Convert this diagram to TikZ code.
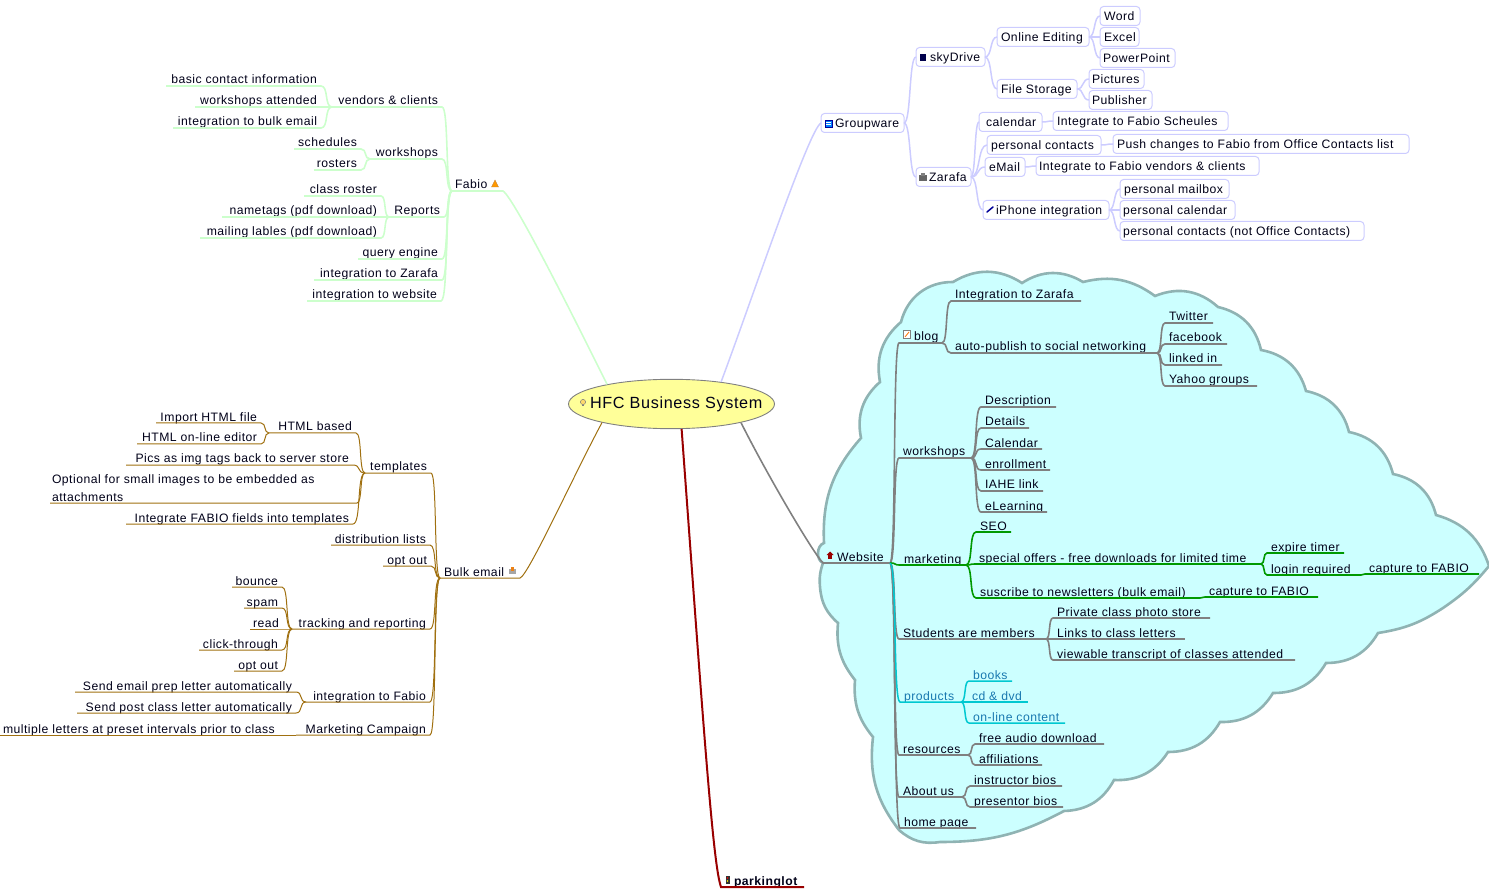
\documentclass[tikz,border=0pt]{standalone}
\usepackage{fontspec}
\setmainfont{Liberation Sans}[LetterSpace=4]
\usetikzlibrary{shapes.geometric,calc}
\definecolor{lav}{HTML}{CCCCFF}
\definecolor{lgreen}{HTML}{CCFFCC}
\definecolor{brn}{HTML}{A07010}
\definecolor{gry}{HTML}{808080}
\definecolor{mgreen}{HTML}{009900}
\definecolor{cyn}{HTML}{00C8D0}
\definecolor{dred}{HTML}{990000}
\definecolor{cloudline}{HTML}{8FB3B3}
\definecolor{cloudfill}{HTML}{CCFFFF}
\definecolor{rootfill}{HTML}{FFFF99}
\definecolor{txt}{HTML}{000018}
\definecolor{blu}{HTML}{1878B0}
\tikzset{
 base/.style={inner xsep=0pt,inner ysep=2pt,outer sep=0pt,text height=9pt,text depth=0pt,text=txt,
   font=\fontsize{12.2}{18}\selectfont},
 ul/.style={base,anchor=south west},
 bx/.style={base,inner ysep=0pt,draw=lav,line width=1pt,rounded corners=3.5pt,fill=white,minimum height=19pt},
 lk/.style={draw=gry,line width=1.6pt},
 rootnode/.style={ellipse,draw=gry,line width=0.9pt,fill=rootfill,minimum width=206pt,minimum height=49.4pt,inner sep=0pt,
   font=\fontsize{16.2}{18}\selectfont,text=txt}
}
% left-aligned underlined node
\newcommand\Ul[6][]{\node[ul,#1] (#2) at (#3,#5) {\makebox[\dimexpr#4pt-#3pt\relax][l]{\hspace{4pt}#6}};}
% right-aligned underlined node
\newcommand\Ur[6][]{\node[ul,#1] (#2) at (#3,#5) {\makebox[\dimexpr#4pt-#3pt\relax][r]{#6\hspace{4pt}}};}
% left-aligned with a given left pad
\newcommand\Up[6]{\node[ul] (#1) at (#2,#4) {\makebox[\dimexpr#3pt-#2pt\relax][l]{\hspace{#5pt}#6}};}
% boxed node
\newcommand\Bx[6]{\node[bx,anchor=west] (#1) at (#2,#4) {\makebox[\dimexpr#3pt-#2pt\relax][l]{\hspace{#5pt}#6}};}
% links
\newcommand\Rt[2]{\draw[lk] let \p1=(#1.south east),\p2=(#2.south west),\n1={0.7*(\x2-\x1)} in
  (#1.south east) .. controls +(\n1,0) and +(-\n1,0) .. (#2.south west) -- (#2.south east);}
\newcommand\Lt[2]{\draw[lk] let \p1=(#1.south west),\p2=(#2.south east),\n1={0.7*(\x2-\x1)} in
  (#1.south west) .. controls +(\n1,0) and +(-\n1,0) .. (#2.south east) -- (#2.south west);}
\newcommand\Bt[2]{\draw[lk] let \p1=(#1.east),\p2=(#2.west),\n1={0.6*(\x2-\x1)} in
  (#1.east) .. controls +(\n1,0) and +(-\n1,0) .. (#2.west);}
\begin{document}
\begin{tikzpicture}[x=1pt,y=-1pt]
\useasboundingbox (0,0) rectangle (1489,890);
% cloud
\draw[cloudline,fill=cloudfill,line width=2.6pt]
 (824,543) to[bend left=22] (861,438) to[bend left=30] (880,382) to[bend left=30] (901,322)
 to[bend left=38] (953,282) to[bend left=32] (1022,283) to[bend left=32] (1083,282)
 to[bend left=25] (1155,296) to[bend left=32] (1218,307) to[bend left=32] (1261,350)
 to[bend left=32] (1306,391) to[bend left=32] (1349,432) to[bend left=32] (1393,474)
 to[bend left=32] (1436,515) to[bend left=28] (1489,566) to[bend left=8] (1443,608)
 to[bend left=12] (1378,633) to[bend left=30] (1326,663) to[bend left=30] (1273,693)
 to[bend left=30] (1220,722) to[bend left=30] (1168,752) to[bend left=30] (1114,780)
 to[bend left=30] (1064,811) to[bend left=14] (940,842) to[bend left=25] (899,830)
 to[bend left=22] (873,737) to[bend left=22] (855,680) to[bend left=22] (838,623)
 to[bend left=22] (820,587) to[bend left=12] (823,563) to[bend left=70] (824,543) -- cycle;
% root
\node[rootnode] (root) at (671.5,404) {\makebox[0pt][l]{\hspace{-81.5pt}\raisebox{-1pt}{HFC Business System}}};

% ---------- Fabio
\Up{fabio}{452}{503}{191}{3}{Fabio}
\Ur{fvend}{332}{442}{107}{vendors \& clients}
\Ur{fbasic}{166}{321}{86}{basic contact information}
\Ur{fatt}{195}{321}{107}{workshops attended}
\Ur{fbulk}{173}{321}{128}{integration to bulk email}
\Ur{fwork}{370}{442}{159}{workshops}
\Ur{fsched}{294}{361}{149}{schedules}
\Ur{frost}{314}{361}{170}{rosters}
\Ur{frep}{389}{444}{217}{Reports}
\Ur{fclass}{304}{381}{196}{class roster}
\Ur{fname}{222}{381}{217}{nametags (pdf download)}
\Ur{fmail}{200}{381}{238}{mailing lables (pdf download)}
\Ur{fquery}{358}{442}{259}{query engine}
\Ur{fzar}{314}{442}{280}{integration to Zarafa}
\Ur{fweb}{307}{441}{301}{integration to website}
\begin{scope}[lk/.style={draw=lgreen,line width=1.6pt}]
\draw[lk] (root.163) .. controls +(-28,-56) and +(12,8) .. (fabio.south east) -- (fabio.south west);
\foreach \c in {fvend,fwork,frep,fquery,fzar,fweb}{\Lt{fabio}{\c}}
\foreach \c in {fbasic,fatt,fbulk}{\Lt{fvend}{\c}}
\foreach \c in {fsched,frost}{\Lt{fwork}{\c}}
\foreach \c in {fclass,fname,fmail}{\Lt{frep}{\c}}
\end{scope}

% ---------- Bulk email
\Up{bulk}{440}{520}{578}{4}{Bulk email}
\Ur{btemp}{365}{431}{473}{templates}
\Ur{bhtml}{269}{356}{433}{HTML based}
\Ur{bimp}{156}{261}{423}{Import HTML file}
\Ur{bedit}{137}{261}{444}{HTML on-line editor}
\Ur{bpics}{126}{353}{465}{Pics as img tags back to server store}
\node[ul,align=left,text height=9pt,inner ysep=2pt] (bopt) at (50,503) {\makebox[307pt][l]{\hspace{2pt}Optional for small images to be embedded as}\\\makebox[307pt][l]{\hspace{2pt}attachments}};
\Ur{bint}{126}{353}{524}{Integrate FABIO fields into templates}
\Ur{bdist}{331}{430}{545}{distribution lists}
\Ur{bopto}{383}{431}{566}{opt out}
\Ur{btrack}{292}{430}{629}{tracking and reporting}
\Ur{bbou}{232}{282}{587}{bounce}
\Ur{bspam}{244}{282}{608}{spam}
\Ur{bread}{250}{283}{629}{read}
\Ur{bclick}{199}{282}{650}{click-through}
\Ur{boptt}{234}{282}{671}{opt out}
\Ur{bfab}{306}{430}{702}{integration to Fabio}
\Ur{bprep}{75}{296}{692}{Send email prep letter automatically}
\Ur{bpost}{77}{296}{713}{Send post class letter automatically}
\Ur{bmkt}{296}{430}{735}{Marketing Campaign}
\node[ul] (bmult) at (0,735) {\makebox[296pt][l]{\hspace{3pt}multiple letters at preset intervals prior to class}};
\begin{scope}[lk/.style={draw=brn,line width=1pt}]
\draw[lk] (root.195) .. controls +(-28,52) and +(8,-2) .. (bulk.south east) -- (bulk.south west);
\foreach \c in {btemp,bdist,bopto,btrack,bfab,bmkt}{\Lt{bulk}{\c}}
\foreach \c in {bhtml,bpics,bopt,bint}{\Lt{btemp}{\c}}
\foreach \c in {bimp,bedit}{\Lt{bhtml}{\c}}
\foreach \c in {bbou,bspam,bread,bclick,boptt}{\Lt{btrack}{\c}}
\foreach \c in {bprep,bpost}{\Lt{bfab}{\c}}
\Lt{bmkt}{bmult}
\end{scope}

% ---------- Groupware
\Bx{grp}{821}{904}{123}{14}{Groupware}
\Bx{sky}{916}{985}{57}{14}{skyDrive}
\Bx{onl}{997}{1089}{37}{4}{Online Editing}
\Bx{wrd}{1100}{1140}{16}{4}{Word}
\Bx{xls}{1100}{1139}{37}{4}{Excel}
\Bx{ppt}{1100}{1175}{58}{3}{PowerPoint}
\Bx{fst}{997}{1077}{89}{4}{File Storage}
\Bx{pic}{1089}{1144}{79}{3}{Pictures}
\Bx{pub}{1089}{1152}{100}{3}{Publisher}
\Bx{zar}{916}{971}{177}{13}{Zarafa}
\Bx{cal}{979}{1042}{122}{7}{calendar}
\Bx{intc}{1053}{1228}{121}{4}{Integrate to Fabio Scheules}
\Bx{pcn}{987}{1101}{145}{4}{personal contacts}
\Bx{psh}{1113}{1409}{144}{4}{Push changes to Fabio from Office Contacts list}
\Bx{eml}{985}{1025}{167}{4}{eMail}
\Bx{inte}{1036}{1259}{166}{3}{Integrate to Fabio vendors \& clients}
\Bx{iph}{983}{1109}{210}{13}{iPhone integration}
\Bx{pmb}{1120}{1229}{189}{4}{personal mailbox}
\Bx{pcl}{1120}{1235}{210}{3}{personal calendar}
\Bx{pct}{1120}{1364}{231}{3}{personal contacts (not Office Contacts)}
\begin{scope}[lk/.style={draw=lav,line width=1.5pt}]
\draw[lk] (root.24.6) .. controls +(30,-80) and +(-12,6) .. (grp.west);
\foreach \a/\c in {grp/sky,grp/zar,sky/onl,sky/fst,onl/wrd,onl/xls,onl/ppt,fst/pic,fst/pub,
  zar/cal,zar/pcn,zar/eml,zar/iph,cal/intc,pcn/psh,eml/inte,iph/pmb,iph/pcl,iph/pct}{\Bt{\a}{\c}}
\end{scope}

% ---------- Website
\Up{web}{823}{890}{563}{14}{Website}
\Up{blog}{899}{942}{343}{15}{blog}
\Ul{bzar}{951}{1081}{301}{Integration to Zarafa}
\Ul{bauto}{951}{1157}{353}{auto-publish to social networking}
\Ul{twi}{1165}{1213}{323}{Twitter}
\Ul{fac}{1165}{1227}{344}{facebook}
\Ul{lin}{1165}{1222}{365}{linked in}
\Ul{yah}{1165}{1257}{386}{Yahoo groups}
\Ul{wsh}{899}{971}{458}{workshops}
\Ul{wde}{981}{1056}{407}{Description}
\Ul{wdt}{981}{1029}{428}{Details}
\Ul{wca}{981}{1042}{449}{Calendar}
\Ul{wen}{981}{1050}{470}{enrollment}
\Ul{wia}{981}{1043}{491}{IAHE link}
\Ul{wel}{981}{1047}{512}{eLearning}
\Ul[]{mkt}{900}{966}{565}{marketing}
\Ul{seo}{976}{1011}{532}{SEO}
\Ul{spc}{975}{1261}{564}{special offers - free downloads for limited time}
\Ul{exp}{1267}{1344}{553}{expire timer}
\Ul{log}{1267}{1361}{575}{login required}
\Ul{capa}{1365}{1479}{574}{capture to FABIO}
\Ul{sus}{976}{1200}{598}{suscribe to newsletters (bulk email)}
\Ul{capb}{1205}{1318}{597}{capture to FABIO}
\Ul{stu}{899}{1046}{639}{Students are members}
\Ul{prv}{1053}{1210}{618}{Private class photo store}
\Ul{lnk}{1053}{1185}{639}{Links to class letters}
\Ul{via}{1053}{1295}{660}{viewable transcript of classes attended}
\Ul[text=blu]{prd}{900}{961}{702}{products}
\Ul[text=blu]{boo}{969}{1012}{681}{books}
\Ul[text=blu]{cdd}{968}{1028}{702}{cd \& dvd}
\Ul[text=blu]{onc}{969}{1065}{723}{on-line content}
\Ul{res}{899}{968}{755}{resources}
\Ul{fre}{975}{1104}{744}{free audio download}
\Ul{aff}{975}{1042}{765}{affiliations}
\Ul{abt}{899}{962}{797}{About us}
\Ul{ins}{970}{1062}{786}{instructor bios}
\Ul{pre}{970}{1063}{807}{presentor bios}
\Ul{hom}{900}{976}{828}{home page}
\begin{scope}
\draw[lk] (root.-15) .. controls +(25,50) and +(-10,-10) .. (web.south west) -- (web.south east);
\foreach \a/\c in {web/blog,web/wsh,web/stu,web/res,web/abt,web/hom,blog/bzar,blog/bauto,bauto/twi,bauto/fac,bauto/lin,bauto/yah,
 wsh/wde,wsh/wdt,wsh/wca,wsh/wen,wsh/wia,wsh/wel,stu/prv,stu/lnk,stu/via,res/fre,res/aff,abt/ins,abt/pre}{\Rt{\a}{\c}}
\end{scope}
\begin{scope}[lk/.style={draw=mgreen,line width=1.6pt}]
\foreach \a/\c in {web/mkt,mkt/seo,mkt/spc,mkt/sus,spc/exp,spc/log,log/capa,sus/capb}{\Rt{\a}{\c}}
\end{scope}
\begin{scope}[lk/.style={draw=cyn,line width=1.5pt}]
\foreach \a/\c in {web/prd,prd/boo,prd/cdd,prd/onc}{\Rt{\a}{\c}}
\end{scope}

% ---------- parkinglot
\node[ul] (park) at (721,887) {\makebox[83pt][l]{\hspace{13pt}\bfseries parkinglot}};
\draw[draw=dred,line width=2pt] (root.-68) .. controls +(22,300) and +(-8,-22) .. (park.south west) -- (park.south east);

% ---------- icons
% bulb
\fill[rootfill!70!orange,draw=gray,line width=.5pt] (583,402) circle (2.6pt);
\draw[gray,line width=.8pt] (582,405.5) -- (584,405.5);
% warning
\fill[orange!80!yellow,draw=brown,line width=.4pt] (491.5,187) -- (495,180) -- (498.5,187) -- cycle;
% bulk email
\fill[gray!70] (509,569) rectangle (516,574);
\fill[orange!70!brown] (511,567) rectangle (514,571);
% groupware
\fill[blue!50!cyan,draw=blue!60!black,line width=.4pt] (825,120) rectangle (832,127);
\draw[white,line width=.5pt] (826,122.5) -- (831,122.5) (826,124.5) -- (831,124.5);
% skydrive
\fill[blue!30!black] (920,54) rectangle (926,61);
% zarafa
\fill[gray!80!black] (919,175) rectangle (927,181);
\fill[gray] (921,173) rectangle (925,176);
% iphone
\draw[blue!60!black,line width=1.5pt,line cap=round] (987,212) -- (993,207);
% blog
\fill[white,draw=gray,line width=.4pt] (903,330) rectangle (910,338);
\draw[orange!90!red,line width=.8pt] (905,337) -- (909,332);
% website
\fill[red!60!black] (826.5,555) -- (830,551.5) -- (833.5,555) -- cycle;
\fill[red!60!black] (828,555) rectangle (832,559);
% parkinglot
\fill[black!80] (725.5,876) rectangle (729.5,884);
\fill[red] (727.5,878) circle (.9pt);
\fill[yellow] (727.5,881) circle (.8pt);
\end{tikzpicture}
\end{document}
